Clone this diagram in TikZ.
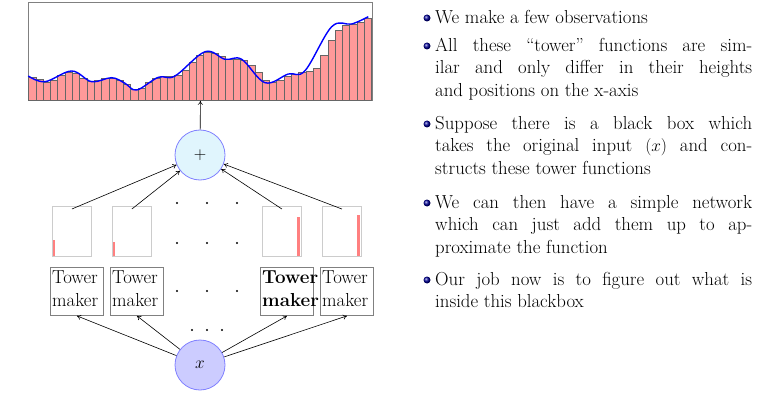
\documentclass[tikz,border=0pt]{standalone}
\usetikzlibrary{arrows.meta,shadings}
\begin{document}
\begin{tikzpicture}[x=1pt,y=-1pt,
  bar/.style={fill=red!40,draw=black!60,line width=0.6pt},
  sumnode/.style={circle,minimum size=50pt,inner sep=0pt,draw=blue!50,fill=cyan!12,line width=0.8pt},
  innode/.style={circle,minimum size=50pt,inner sep=0pt,draw=blue!50,fill=blue!20,line width=0.8pt},
  imgbox/.style={draw=black!20,line width=0.8pt},
  maker/.style={draw=black!50,line width=0.9pt,minimum width=53pt,minimum height=48pt,inner sep=0pt},
  arr/.style={-{To[length=4pt,width=5pt]},line width=0.6pt},
  txt/.style={font=\fontsize{18.8}{22.5}\selectfont},
  ball/.style={circle,inner sep=0pt,minimum size=7pt,shading=ball,ball color=blue!60!black}]
\useasboundingbox (0,0) rectangle (775,406);
% plot
\node[draw=black!50,line width=0.8pt,minimum width=344pt,minimum height=98pt,inner sep=0pt,anchor=north west] (plot) at (28,2) {};
\foreach \t [count=\i from 0] in {77,79,82,80,75,72,73,78,81,80,78,78,80,84,89,88,82,78,76,76,75,70,62,55,52,53,56,59,59,60,65,72,80,82,80,76,74,72,71,68,55,40,30,25,24,22,18}
  \draw[bar] (28.5+\i*7.3,100) rectangle (28.5+\i*7.3+7.3,\t);
\draw[blue,line width=1.4pt] plot[smooth,tension=0.6] coordinates {(28.3,76) (45,81.7) (71.7,71) (91.7,81.7) (111.7,77.7) (125,83.3) (136.7,90) (158.3,77.3) (175,76) (205,51.7) (225,59.3) (241.7,59.3) (265,82.7) (288.3,74) (305,70.7) (331.7,26.7) (351.7,24) (368.3,16.7)};
\node[sumnode] (sum) at (200,155) {\fontsize{18}{20}\selectfont$+$};
\draw[arr] (sum) -- (plot.south);
% tower images
\foreach \n/\x in {i1/52,i2/112,i3/262,i4/322}{
  \node[imgbox,minimum width=39pt,minimum height=50pt,inner sep=0pt,anchor=north west] (\n) at (\x,206) {};
}
\fill[red!50] (53,240) rectangle (55,256);
\fill[red!50] (113,242) rectangle (115,256);
\fill[red!50] (297,217) rectangle (299.5,256);
\fill[red!50] (357,215) rectangle (359.5,256);
% makers
\node[maker,anchor=north west] (m1) at (50,267) {};
\node[maker,anchor=north west] (m2) at (110,267) {};
\node[maker,anchor=north west] (m3) at (260,267) {};
\node[maker,anchor=north west] (m4) at (320,267) {};
\foreach \m in {m1,m2,m4}
  \node[txt,anchor=north west,align=left,inner sep=0pt] at ([shift={(2,4)}]\m.north west) {Tower\\maker};
\node[anchor=north west,align=left,inner sep=0pt,font=\fontsize{18.8}{22.5}\selectfont\bfseries] at ([shift={(2,4)}]m3.north west) {Tower\\maker};
% dots
\foreach \y in {203,243,291} \foreach \x in {177,207,237} \fill (\x,\y) circle (1.1);
\foreach \x in {192,207,222} \fill (\x,330) circle (1.1);
\node[innode] (x) at (200,365) {\fontsize{16.5}{20}\selectfont$x$};
\foreach \m in {m1,m2,m3,m4} \draw[arr] (x) -- (\m.south);
\foreach \i in {i1,i2,i3,i4} \draw[arr] ([yshift=-3pt]\i.north) -- (sum);
% bullets
\begin{scope}[txt]
\node[ball] (b1) at (427,18) {};
\node[anchor=base west,inner sep=0pt] (t1) at (435,24) {We make a few observations};
\node[ball] (b2) at (427,46) {};
\node[anchor=north west,inner sep=0pt,align=left] (t2) at (435,38) {\makebox[317pt][s]{All these ``tower'' functions are sim-}\\\makebox[317pt][s]{ilar and only differ in their heights}\\and positions on the x-axis};
\node[ball] (b3) at (427,124) {};
\node[anchor=north west,inner sep=0pt,align=left] (t3) at (435,116) {\makebox[317pt][s]{Suppose there is a black box which}\\\makebox[317pt][s]{takes the original input $(x)$ and con-}\\structs these tower functions};
\node[ball] (b4) at (427,203) {};
\node[anchor=north west,inner sep=0pt,align=left] (t4) at (435,195) {\makebox[317pt][s]{We can then have a simple network}\\\makebox[317pt][s]{which can just add them up to ap-}\\proximate the function};
\node[ball] (b5) at (427,280) {};
\node[anchor=north west,inner sep=0pt,align=left] (t5) at (435,272) {\makebox[317pt][s]{Our job now is to figure out what is}\\inside this blackbox};
\end{scope}
\end{tikzpicture}
\end{document}
